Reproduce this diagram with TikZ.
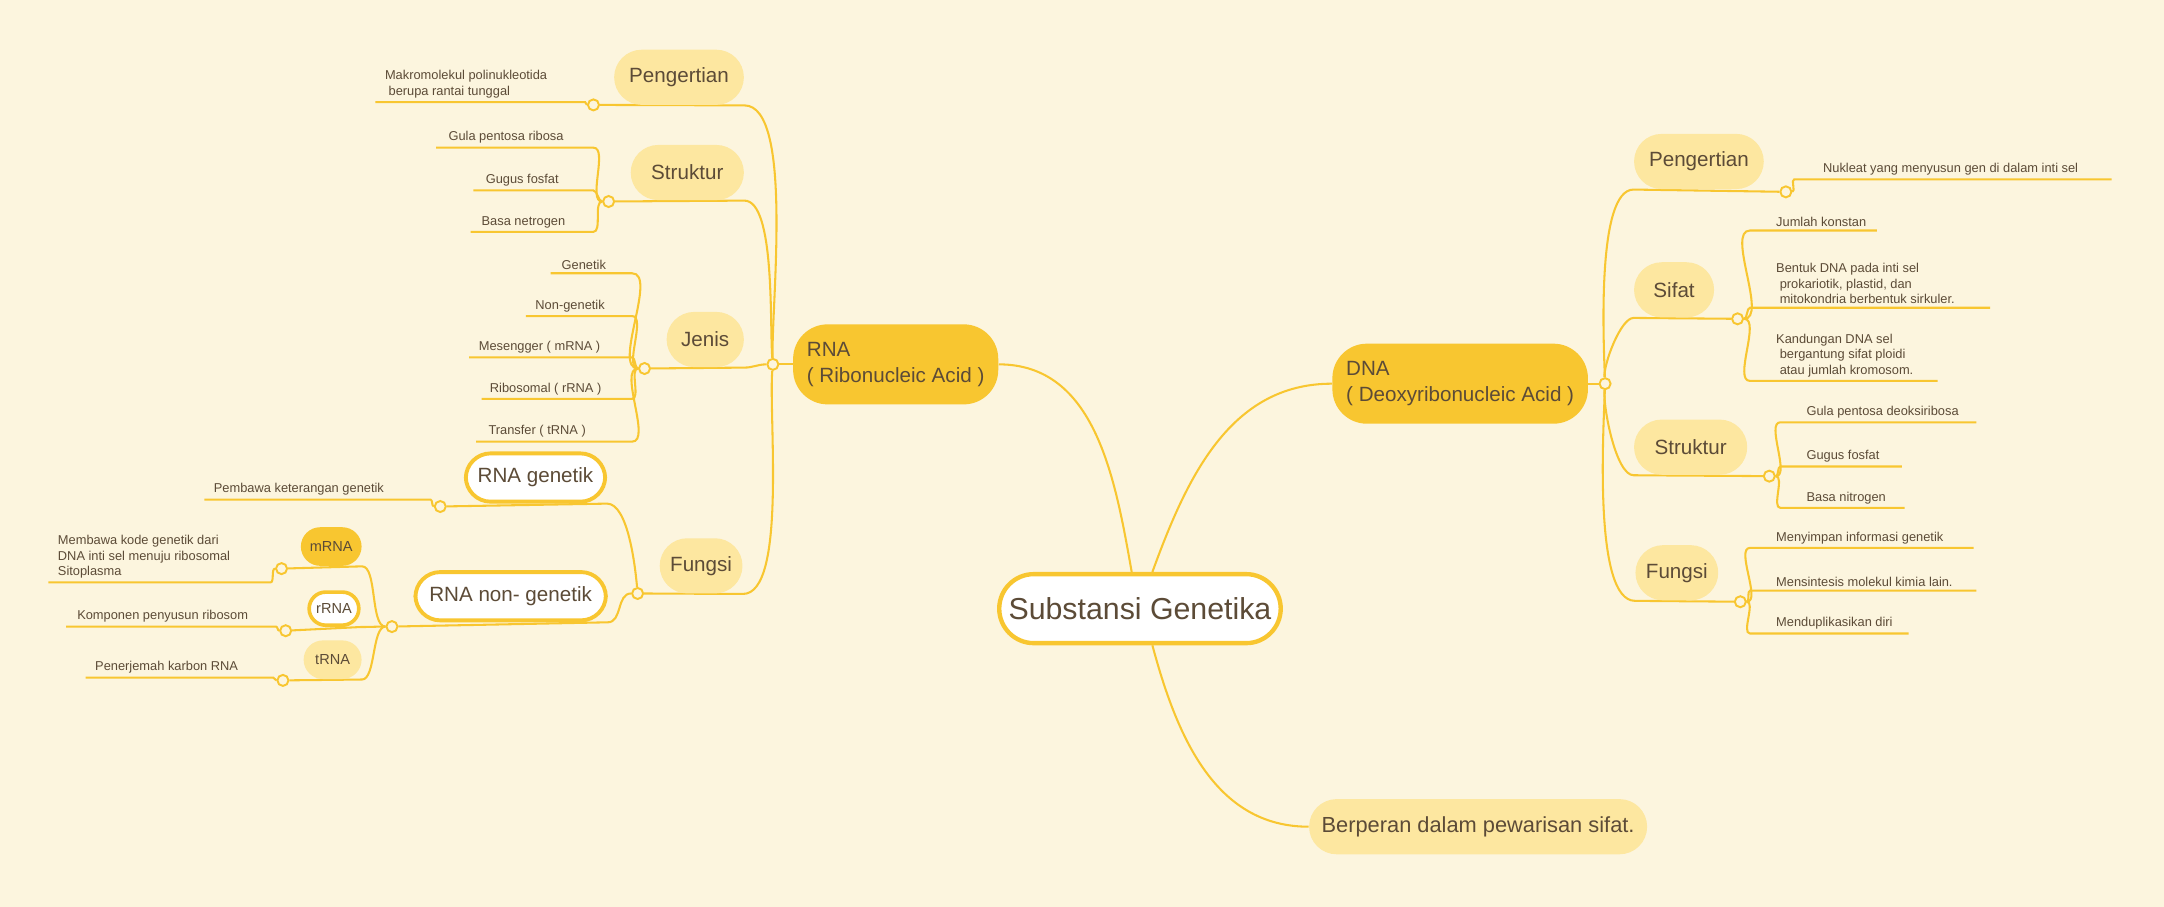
\documentclass[tikz,border=0pt]{standalone}
\usepackage{fontspec}
\setmainfont{Liberation Sans}
\usetikzlibrary{backgrounds}
\definecolor{bg}{HTML}{FCF5DE}
\definecolor{yel}{HTML}{F8C630}
\definecolor{lite}{HTML}{FDE7A0}
\definecolor{txt}{HTML}{5C4B37}
\tikzset{
 ln/.style={draw=yel,line width=0.85pt},
 br/.style={looseness=0.5},
 leaf/.style={font=\fontsize{5.3}{6.4}\selectfont,text=txt,inner sep=1.5pt,align=left},
 sub/.style={fill=lite,rounded corners=0.4cm,minimum height=0.8cm,inner xsep=0.15cm,font=\fontsize{8.5}{10}\selectfont,text=txt},
 subw/.style={fill=white,draw=yel,line width=1.6pt,rounded corners=0.36cm,minimum height=0.7cm,inner xsep=0.15cm,font=\fontsize{8.5}{10}\selectfont,text=txt},
 main/.style={fill=yel,rounded corners=0.5cm,minimum height=1.16cm,inner xsep=0.2cm,font=\fontsize{8.5}{10.5}\selectfont,text=txt,align=left},
 jn/.style={circle,draw=yel,fill=bg,line width=0.8pt,minimum size=0.16cm,inner sep=0pt},
}
\newcommand\leafL[7]{% name, junction, near x, far x, y, text x, text
 \coordinate (#1a) at (#3,#5); \coordinate (#1b) at (#4,#5);
 \node[leaf,anchor=south west] (#1) at (#6,#5) {#7};
 \begin{pgfonlayer}{background}\draw[ln] (#2) to[out=180,in=0,looseness=0.7] (#1a) -- (#1b);\end{pgfonlayer}}
\newcommand\leafR[7]{%
 \coordinate (#1a) at (#3,#5); \coordinate (#1b) at (#4,#5);
 \node[leaf,anchor=south west] (#1) at (#6,#5) {#7};
 \begin{pgfonlayer}{background}\draw[ln] (#2) to[out=0,in=180,looseness=0.7] (#1a) -- (#1b);\end{pgfonlayer}}
\begin{document}
\begin{tikzpicture}[x=0.02cm,y=-0.02cm]
\begin{pgfonlayer}{background}
\fill[bg] (0,0) rectangle (1568,657);
\end{pgfonlayer}
\useasboundingbox (0,0) rectangle (1568,657);
% central
\node[fill=white,draw=yel,line width=1.8pt,rounded corners=0.5cm,minimum width=4.08cm,minimum height=1.0cm,font=\fontsize{12.5}{15}\selectfont,text=txt] (c) at (826,441) {Substansi Genetika};
\node[main,minimum width=2.96cm] (rna) at (649,264) {RNA\\( Ribonucleic Acid )};
\node[main,minimum width=3.6cm] (dna) at (1058,278) {DNA\\( Deoxyribonucleic Acid )};
\node[sub,minimum width=4.9cm,font=\fontsize{9}{11}\selectfont] (ber) at (1071,599) {Berperan dalam pewarisan sifat.};
\node[jn] (jr) at (560,264) {};
\node[jn] (jd) at (1163,278) {};
\begin{pgfonlayer}{background}
\draw[ln] ([xshift=-0.12cm]c.north) to[out=100,in=0] (rna.east);
\draw[ln] ([xshift=0.18cm]c.north) to[out=70,in=180] (dna.west);
\draw[ln] ([xshift=0.18cm]c.south) to[out=-75,in=180] (ber.west);
\draw[ln] (rna.west) -- (jr);
\draw[ln] (dna.east) -- (jd);
\end{pgfonlayer}
% ---------- RNA side
\node[sub,minimum width=1.88cm] (rp) at (492,56) {Pengertian};
\node[sub,minimum width=1.64cm] (rs) at (498,125) {Struktur};
\node[sub,minimum width=1.12cm] (rj) at (511,246) {Jenis};
\node[sub,minimum width=1.2cm] (rf) at (508,410) {Fungsi};
\node[jn] (crp) at (430,76) {};
\node[jn] (crs) at (441,146) {};
\node[jn] (crj) at (467,267) {};
\node[jn] (crf) at (462,430) {};
\begin{pgfonlayer}{background}
\draw[ln] (jr) to[out=92,in=0,br] (rp.south east) -- (crp);
\draw[ln] (jr) to[out=95,in=0,br] (rs.south east) -- (crs);
\draw[ln] (jr) to[out=180,in=0] (rj.south east) -- (crj);
\draw[ln] (jr) to[out=-95,in=0,br] (rf.south east) -- (crf);
\end{pgfonlayer}
\leafL{a1}{crp}{424}{272}{74}{276}{Makromolekul polinukleotida\\ \ berupa rantai tunggal}
\leafL{a2}{crs}{430}{316}{107}{322}{Gula pentosa ribosa}
\leafL{a3}{crs}{430}{343}{138}{349}{Gugus fosfat}
\leafL{a4}{crs}{430}{341}{168}{346}{Basa netrogen}
\leafL{b1}{crj}{458}{399}{198}{404}{Genetik}
\leafL{b2}{crj}{458}{381}{229}{385}{Non-genetik}
\leafL{b3}{crj}{458}{340}{259}{344}{Mesengger ( mRNA )}
\leafL{b4}{crj}{458}{349}{289}{352}{Ribosomal ( rRNA )}
\leafL{b5}{crj}{458}{345}{320}{351}{Transfer ( tRNA )}
% Fungsi children
\node[subw,minimum width=2.02cm] (rg) at (388,346) {RNA genetik};
\node[subw,minimum width=2.76cm] (rn) at (370,432) {RNA non- genetik};
\node[jn] (crg) at (319,367) {};
\node[jn] (crn) at (284,454) {};
\begin{pgfonlayer}{background}
\draw[ln] (crf) to[out=95,in=0,looseness=0.6] (rg.south east) -- (crg);
\draw[ln] (crf) to[out=180,in=0] (rn.south east) -- (crn);
\end{pgfonlayer}
\leafL{g1}{crg}{312}{148}{362}{152}{Pembawa keterangan genetik}
\node[fill=yel,rounded corners=0.28cm,minimum width=0.88cm,minimum height=0.56cm,inner sep=1pt,font=\fontsize{6}{7}\selectfont,text=txt] (m) at (240,396) {mRNA};
\node[fill=white,draw=yel,line width=1.5pt,rounded corners=0.24cm,minimum width=0.72cm,minimum height=0.48cm,inner sep=1pt,font=\fontsize{6}{7}\selectfont,text=txt] (r) at (242,441) {rRNA};
\node[fill=lite,rounded corners=0.28cm,minimum width=0.84cm,minimum height=0.56cm,inner sep=1pt,font=\fontsize{6}{7}\selectfont,text=txt] (t) at (241,478) {tRNA};
\node[jn] (cm) at (204,412) {};
\node[jn] (cr) at (207,457) {};
\node[jn] (ct) at (205,493) {};
\begin{pgfonlayer}{background}
\draw[ln] (crn) to[out=180,in=0,looseness=0.6] (m.south east) -- (cm);
\draw[ln] (crn) to[out=180,in=0] (r.south east) -- (cr);
\draw[ln] (crn) to[out=180,in=0,looseness=0.6] (t.south east) -- (ct);
\end{pgfonlayer}
\leafL{m1}{cm}{196}{35}{422}{39}{Membawa kode genetik dari\\DNA inti sel menuju ribosomal\\Sitoplasma}
\leafL{r1}{cr}{200}{48}{454}{53}{Komponen penyusun ribosom}
\leafL{t1}{ct}{198}{62}{491}{66}{Penerjemah karbon RNA}
% ---------- DNA side
\node[sub,minimum width=1.88cm] (dp) at (1231,117) {Pengertian};
\node[sub,minimum width=1.16cm] (ds) at (1213,210) {Sifat};
\node[sub,minimum width=1.64cm] (dt) at (1225,324) {Struktur};
\node[sub,minimum width=1.2cm] (df) at (1215,415) {Fungsi};
\node[jn] (cdp) at (1294,139) {};
\node[jn] (cds) at (1259,231) {};
\node[jn] (cdt) at (1282,345) {};
\node[jn] (cdf) at (1261,436) {};
\begin{pgfonlayer}{background}
\draw[ln] (jd) to[out=92,in=180,br] (dp.south west) -- (cdp);
\draw[ln] (jd) to[out=95,in=180,br] (ds.south west) -- (cds);
\draw[ln] (jd) to[out=-95,in=180,br] (dt.south west) -- (cdt);
\draw[ln] (jd) to[out=-92,in=180,br] (df.south west) -- (cdf);
\end{pgfonlayer}
\leafR{d1}{cdp}{1300}{1530}{130}{1318}{Nukleat yang menyusun gen di dalam inti sel}
\leafR{s1}{cds}{1268}{1360}{167}{1284}{Jumlah konstan}
\leafR{s2}{cds}{1268}{1442}{223}{1284}{Bentuk DNA pada inti sel\\ \ prokariotik, plastid, dan\\ \ mitokondria berbentuk sirkuler.}
\leafR{s3}{cds}{1268}{1404}{276}{1284}{Kandungan DNA sel\\ \ bergantung sifat ploidi\\ \ atau jumlah kromosom.}
\leafR{u1}{cdt}{1290}{1432}{306}{1306}{Gula pentosa deoksiribosa}
\leafR{u2}{cdt}{1290}{1378}{338}{1306}{Gugus fosfat}
\leafR{u3}{cdt}{1290}{1380}{368}{1306}{Basa nitrogen}
\leafR{f1}{cdf}{1268}{1430}{397}{1284}{Menyimpan informasi genetik}
\leafR{f2}{cdf}{1268}{1432}{428}{1284}{Mensintesis molekul kimia lain.}
\leafR{f3}{cdf}{1268}{1383}{459}{1284}{Menduplikasikan diri}
\end{tikzpicture}
\end{document}
